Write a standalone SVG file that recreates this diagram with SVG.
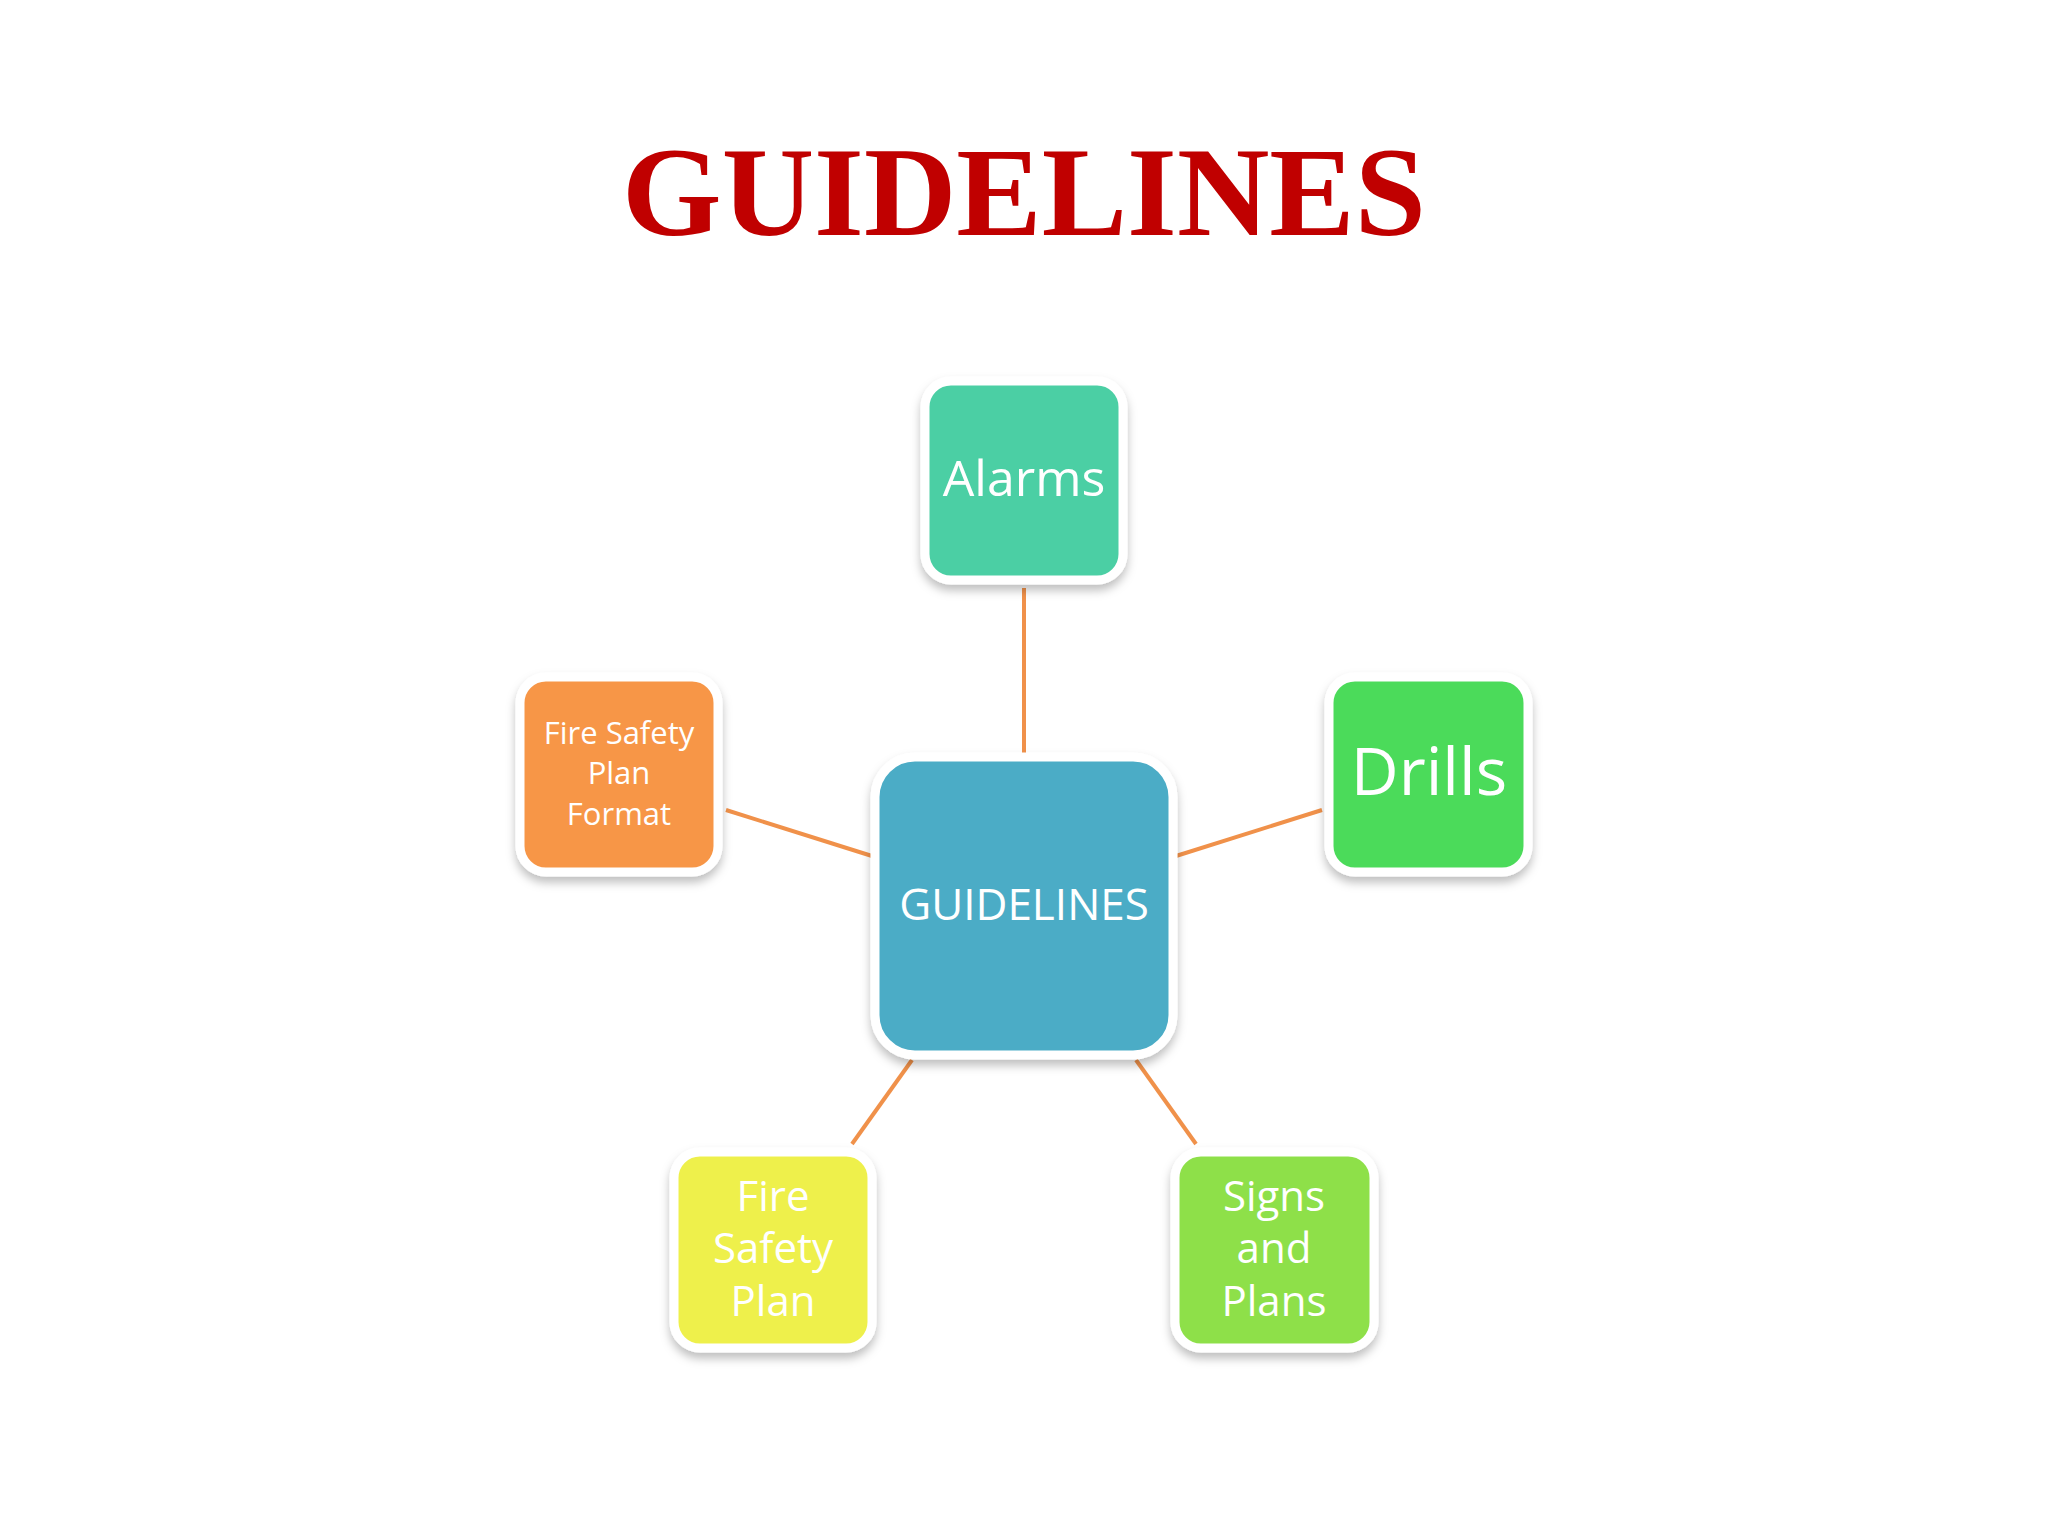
<svg xmlns="http://www.w3.org/2000/svg" width="2048" height="1536" viewBox="0 0 2048 1536">
<defs>
<filter id="sh" x="-20%" y="-20%" width="140%" height="140%"><feDropShadow dx="0" dy="6" stdDeviation="5" flood-color="#000" flood-opacity="0.25"/></filter>
<style>
.box{stroke:#fff;stroke-width:9;filter:url(#sh)}
.t{font-family:"Open Sans","Noto Sans",sans-serif;fill:#fff;text-anchor:middle}
.c{stroke:#F0914A;stroke-width:4;fill:none}
</style>
</defs>
<rect width="2048" height="1536" fill="#fff"/>
<text x="1024" y="235" font-family="Liberation Serif,serif" font-weight="bold" font-size="128" fill="#C00000" text-anchor="middle">GUIDELINES</text>
<g id="connectors">
<line class="c" x1="1024" y1="588" x2="1024" y2="754"/>
<line class="c" x1="726" y1="810" x2="872" y2="856"/>
<line class="c" x1="1176" y1="856" x2="1322" y2="810"/>
<line class="c" x1="912" y1="1060" x2="852" y2="1144"/>
<line class="c" x1="1136" y1="1060" x2="1196" y2="1144"/>
</g>
<g id="alarms"><rect class="box" x="925" y="381" width="198" height="199" rx="26" fill="#4BCFA4"/><text class="t" x="1024" y="496" font-size="50">Alarms</text></g>
<g id="center"><rect class="box" x="875" y="757" width="298" height="298" rx="40" fill="#4BACC6"/><text class="t" x="1024" y="920" font-size="44">GUIDELINES</text></g>
<g id="fspf"><rect class="box" x="520" y="677" width="198" height="195" rx="26" fill="#F79646"/><text class="t" font-size="31"><tspan x="619" y="744">Fire Safety</tspan><tspan x="619" y="784">Plan</tspan><tspan x="619" y="825">Format</tspan></text></g>
<g id="drills"><rect class="box" x="1329" y="677" width="199" height="195" rx="26" fill="#4CDB5A"/><text class="t" x="1429" y="795" font-size="66">Drills</text></g>
<g id="fsp"><rect class="box" x="674" y="1152" width="198" height="196" rx="26" fill="#EEF04C"/><text class="t" font-size="42"><tspan x="773" y="1211">Fire</tspan><tspan x="773" y="1263">Safety</tspan><tspan x="773" y="1316">Plan</tspan></text></g>
<g id="signs"><rect class="box" x="1175" y="1152" width="199" height="196" rx="26" fill="#8EE04A"/><text class="t" font-size="42"><tspan x="1274" y="1211">Signs</tspan><tspan x="1274" y="1263">and</tspan><tspan x="1274" y="1316">Plans</tspan></text></g>
</svg>
